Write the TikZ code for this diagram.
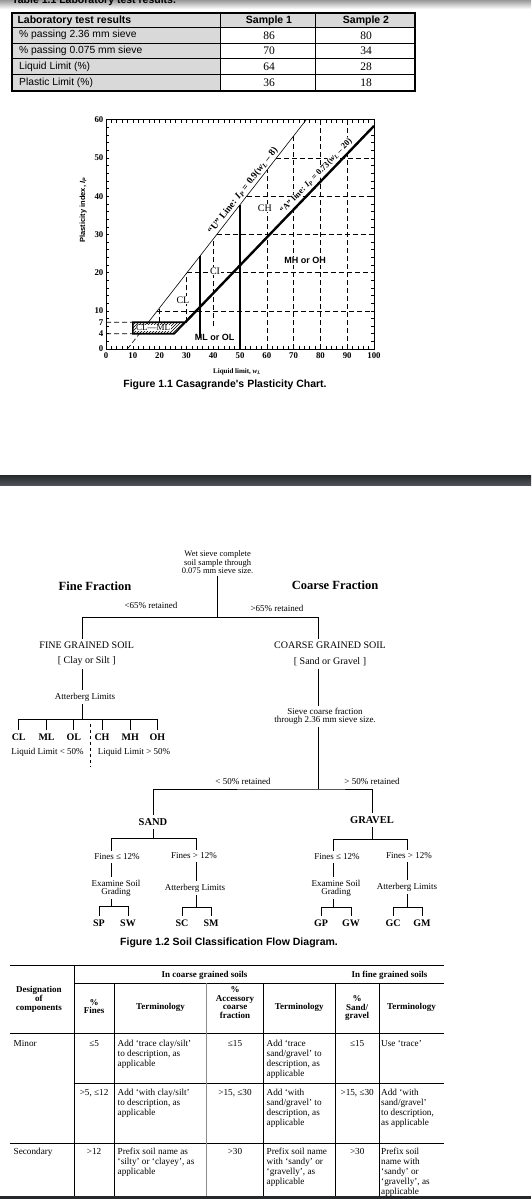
\documentclass[tikz,border=0pt]{standalone}
\usepackage{fontspec}
\setmainfont{Liberation Serif}
\newfontfamily\arial{Liberation Sans}
\usetikzlibrary{patterns}
\definecolor{cellgray}{RGB}{217,217,217}
\definecolor{bandtop}{RGB}{38,41,44}
\definecolor{bandbot}{RGB}{80,83,87}
\newcommand{\symsub}[2]{\textit{#1}\textsubscript{\textit{#2}}}

\begin{document}
\begin{tikzpicture}[x=1pt,y=-1pt,
    hd/.style={font=\arial\bfseries\fontsize{10.5}{12}\selectfont,inner sep=0pt},
    rowlab/.style={font=\arial\fontsize{10.3}{12}\selectfont,inner sep=0pt,anchor=west},
    num/.style={font=\fontsize{11.5}{12}\selectfont,inner sep=0pt},
    figcap/.style={font=\arial\bfseries\fontsize{10.5}{12}\selectfont,inner sep=0pt},
    axnum/.style={font=\bfseries\fontsize{8.8}{9}\selectfont,inner sep=0pt},
    zone/.style={font=\fontsize{10}{11}\selectfont,inner sep=0.6pt,fill=white},
    zonesf/.style={font=\arial\bfseries\fontsize{9}{10}\selectfont,inner sep=0.6pt,fill=white},
    lineeq/.style={font=\bfseries\fontsize{8.5}{9}\selectfont,inner sep=0.3pt,fill=white},
    griddash/.style={line width=0.6pt,dash pattern=on 5pt off 3pt},
    lbl/.style={font=\fontsize{9}{8}\selectfont,align=center,inner sep=2.5pt},
    big/.style={font=\bfseries\fontsize{12.5}{14}\selectfont,inner sep=0pt},
    soil/.style={font=\fontsize{10}{12}\selectfont,inner sep=3pt},
    grp/.style={font=\bfseries\fontsize{10.5}{12}\selectfont,inner sep=3pt},
    leaf/.style={font=\bfseries\fontsize{10}{12}\selectfont,inner sep=3.5pt},
    flow/.style={line width=0.8pt},
    th/.style={font=\bfseries\fontsize{9}{8.6}\selectfont,align=center,inner sep=0pt},
    td/.style={font=\fontsize{9.2}{10}\selectfont,align=left,inner sep=0pt,anchor=north west},
    tdc/.style={font=\fontsize{9.2}{10}\selectfont,inner sep=0pt,anchor=north}
  ]
  \useasboundingbox (0,0) rectangle (531,1199);
  \clip (0,0) rectangle (531,1199);

  % top of page
  \shade[top color=black!40,bottom color=white] (0,0) rectangle (531,9);
  \node[figcap,anchor=base west] (tabcap) at (12,3.5) {Table 1.1 Laboratory test results.};

  % Table 1.1
  \fill[cellgray] (11.7,13.3) rectangle (220,90.7) (220,13.3) rectangle (415,27.3);
  \foreach \y in {27.3,43.3,58.7,74} \draw[line width=0.7pt] (11.7,\y) -- (415,\y);
  \foreach \x in {220,315} \draw[line width=0.7pt] (\x,13.3) -- (\x,90.7);
  \draw[line width=1.6pt] (11.7,13.3) rectangle (415,90.7);
  \node[hd,anchor=west] (labhd) at (17.3,20.3) {Laboratory test results};
  \node[hd] (s1hd) at (269,20.3) {Sample 1};
  \node[hd] (s2hd) at (366,20.3) {Sample 2};
  \foreach \y/\lab/\a/\b [count=\i] in {35.3/{\% passing 2.36 mm sieve}/86/80,
      51/{\% passing 0.075 mm sieve}/70/34, 66.4/{Liquid Limit (\%)}/64/28,
      82.4/{Plastic Limit (\%)}/36/18} {
    \node[rowlab] (row\i) at (19,\y) {\lab};
    \node[num] (a\i) at (269,\y) {\a};
    \node[num] (b\i) at (366,\y) {\b};
  }

  % Figure 1.1 plasticity chart
  \begin{scope}[shift={(106,349)},x=2.68pt,y=3.82pt]
    \foreach \v in {10,20,30,40,50} \draw[griddash] ({\v/0.9+8},\v) -- (100,\v);
    \foreach \u/\t in {60/46.8,70/55.8,80/60,90/60} \draw[griddash] (\u,0) -- (\u,\t);
    \draw[griddash] (30,7) -- (30,19.8) (40,6) -- (40,28.8) (20,7) -- (20,10.8);
    \draw[griddash] (0,7) -- (10,7) (0,4) -- (10,4) (8,0) -- (15.8,7);
    \draw[line width=0.9pt] (0,0) rectangle (100,60);
    \foreach \t in {2,4,...,98} \draw[line width=0.5pt] (\t,0) -- (\t,0.9) (\t,60) -- (\t,59.1);
    \foreach \t in {2,4,...,58} \draw[line width=0.5pt] (0,\t) -- (1.2,\t) (100,\t) -- (98.8,\t);
    \foreach \t in {0,10,...,100} \node[axnum,below=3pt] at (\t,0) {\t};
    \foreach \t in {0,4,7,10,20,30,40,50,60} \node[axnum,left=2.5pt] at (0,\t) {\t};
    % U and A lines
    \draw[line width=0.6pt] (15.8,7) -- (74.7,60)
      node[pos=0.63,sloped,above=1pt,lineeq,font=\bfseries\fontsize{9.6}{10}\selectfont] {``U'' Line: \symsub{I}{P} = 0.9(\symsub{w}{L} -- 8)};
    \draw[line width=2.4pt] (29.6,7) -- (100,58.4)
      node[pos=0.72,sloped,above=1.5pt,lineeq] {``A'' line: \symsub{I}{P} = 0.73(\symsub{w}{L} -- 20)};
    \draw[line width=1.6pt,pattern=north east lines] (10,4) -- (25.5,4) -- (29.6,7) -- (10,7) -- cycle;
    \node[font=\fontsize{9}{10}\selectfont,fill=white,inner sep=0.4pt] at (17.6,5.5) {CL---ML};
    \draw[line width=2.2pt] (35,3) -- (35,24.3);
    \draw[line width=2.2pt] (50,0) -- (50,37.8);
    \node[zone] at (28.7,12.8) {CL};
    \node[zone] at (40.7,20.4) {CI};
    \node[zone] at (59.3,36.9) {CH};
    \node[zonesf] at (74.3,23.1) {MH or OH};
    \node[zonesf,fill=none] at (40.5,3) {ML or OL};
    \node[rotate=90,font=\arial\bfseries\fontsize{7.5}{8}\selectfont] at (-8.5,36.4) {Plasticity index, \symsub{I}{P}};
    \node[font=\bfseries\fontsize{7}{8}\selectfont] at (48.9,-5.9) {Liquid limit, \symsub{w}{L}};
  \end{scope}
  \node[figcap] (cap1) at (225,385) {Figure 1.1 Casagrande's Plasticity Chart.};

  % page break
  \shade[top color=bandtop,bottom color=bandbot] (0,475) rectangle (531,485.4);

  % Figure 1.2 flow diagram
  \node[lbl,font=\fontsize{8.5}{7.6}\selectfont] (wet) at (217.6,562) {Wet sieve complete\\soil sample through\\0.075 mm sieve size.};
  \node[big] (fine) at (95,586.5) {Fine Fraction};
  \node[big] (coarse) at (335,585) {Coarse Fraction};
  \node[lbl] (lt65) at (151,605.5) {<65\% retained};
  \node[lbl] (gt65) at (277,608) {>65\% retained};
  \node[soil] (fgs) at (86.7,645.4) {FINE GRAINED SOIL};
  \node[soil] (clay) at (86.7,661.4) {[ Clay or Silt ]};
  \node[soil] (cgs) at (330,645.4) {COARSE GRAINED SOIL};
  \node[soil] (sandgrav) at (330,661.4) {[ Sand or Gravel ]};
  \node[lbl] (attf) at (85,697) {Atterberg Limits};
  \foreach \n/\x/\t in {cl/18.7/CL,ml/46.6/ML,ol/73.8/OL,ch/102/CH,mh/130.2/MH,oh/157.4/OH}
    \node[leaf] (\n) at (\x,737) {\t};
  \node[lbl] (llo) at (47.5,752) {Liquid Limit < 50\%};
  \node[lbl] (lhi) at (134,752) {Liquid Limit > 50\%};
  \node[lbl] (sieve) at (325,716.5) {Sieve coarse fraction\\through 2.36 mm sieve size.};
  \node[lbl] (lt50) at (243,781.7) {< 50\% retained};
  \node[lbl] (gt50) at (372,781) {> 50\% retained};
  \node[grp] (sand) at (153,822) {SAND};
  \node[grp] (gravel) at (372,820) {GRAVEL};
  \node[lbl] (sfa) at (117,857) {Fines ≤ 12\%};
  \node[lbl] (sfb) at (194,856) {Fines > 12\%};
  \node[lbl] (sexam) at (116,888) {Examine Soil\\Grading};
  \node[lbl] (satt) at (195,888) {Atterberg Limits};
  \node[lbl] (gfa) at (337,857) {Fines ≤ 12\%};
  \node[lbl] (gfb) at (409,856) {Fines > 12\%};
  \node[lbl] (gexam) at (336,888) {Examine Soil\\Grading};
  \node[lbl] (gatt) at (407,887) {Atterberg Limits};
  \foreach \n/\x/\t in {sp/99/SP,sw/128/SW,sc/182/SC,sm/211/SM,gp/321/GP,gw/351/GW,gc/393/GC,gm/422/GM}
    \node[leaf] (\n) at (\x,923.5) {\t};
  \node[figcap,anchor=west] (cap2) at (120,943) {Figure 1.2 Soil Classification Flow Diagram.};

  \coordinate (fA) at (82.6,617);
  \coordinate (cA) at (318.6,617);
  \coordinate (fB) at (82.6,719.5);
  \coordinate (cC) at (318.6,789);
  \coordinate (dvtop) at (90.7,724);
  \coordinate (dvbot) at (90.7,767);
  \coordinate (sD1) at (111,838);
  \coordinate (sD2) at (196,838);
  \coordinate (sE) at (111,906);
  \coordinate (sF) at (196,907);
  \coordinate (gD1) at (333,839);
  \coordinate (gD2) at (407,839);
  \coordinate (gE) at (333,907);
  \coordinate (gF) at (407,907);

  \draw[flow] (wet.south) -- (wet.south |- fA);
  \draw[flow] (fA |- fgs.north) -- (fA) -- (cA) -- (cA |- cgs.north);
  \draw[flow] (fA |- clay.south) -- (fA |- attf.north);
  \draw[flow] (fA |- attf.south) -- (fB);
  \draw[flow] (cl.north) |- (fB) -| (oh.north);
  \foreach \n in {ml,ol,ch,mh} \draw[flow] (\n.north) -- (\n.north |- fB);
  \draw[flow,dashed] (dvtop) -- (dvbot);
  \draw[flow] (cA |- sandgrav.south) -- (cA |- sieve.north);
  \draw[flow] (cA |- sieve.south) -- (cC);
  \draw[flow] (sand.north) |- (cC) -| (gravel.north);
  % sand branch
  \draw[flow] (sand.south) -- (sand.south |- sD1);
  \draw[flow] (sD1 |- sfa.north) -- (sD1) -- (sD2) -- (sD2 |- sfb.north);
  \draw[flow] (sD1 |- sfa.south) -- (sD1 |- sexam.north);
  \draw[flow] (sD2 |- sfb.south) -- (sD2 |- satt.north);
  \draw[flow] (sD1 |- sexam.south) -- (sE);
  \draw[flow] (sp.north) |- (sE) -| (sw.north);
  \draw[flow] (sD2 |- satt.south) -- (sF);
  \draw[flow] (sc.north) |- (sF) -| (sm.north);
  % gravel branch
  \draw[flow] (gravel.south) -- (gravel.south |- gD1);
  \draw[flow] (gD1 |- gfa.north) -- (gD1) -- (gD2) -- (gD2 |- gfb.north);
  \draw[flow] (gD1 |- gfa.south) -- (gD1 |- gexam.north);
  \draw[flow] (gD2 |- gfb.south) -- (gD2 |- gatt.north);
  \draw[flow] (gD1 |- gexam.south) -- (gE);
  \draw[flow] (gp.north) |- (gE) -| (gw.north);
  \draw[flow] (gD2 |- gatt.south) -- (gF);
  \draw[flow] (gc.north) |- (gF) -| (gm.north);

  % components table
  \draw[line width=1.4pt] (10,965.2) -- (443.6,965.2);
  \draw[line width=0.6pt] (73.8,983.1) -- (443.6,983.1);
  \foreach \y in {1033.6,1142.8} \draw[line width=0.6pt] (10,\y) -- (443.6,\y);
  \draw[line width=0.6pt] (73.8,1082.9) -- (443.6,1082.9);
  \draw[line width=0.6pt] (73.8,965.2) -- (73.8,1196);
  \foreach \c in {114.4,263.4,335.2,379.2} \draw[line width=0.6pt] (\c,983.1) -- (\c,1196);
  \draw[black!45,line width=1.4pt] (206.5,983.1) -- (206.5,1196);
  \node[th] (incoarse) at (204.5,975.3) {In coarse grained soils};
  \node[th] (infine) at (389.4,975.3) {In fine grained soils};
  \node[th,anchor=north] (desig) at (38.9,986.5) {Designation\\of\\components};
  \node[th,anchor=north] (pfines) at (94.1,999) {\%\\Fines};
  \node[th] (term1) at (160.5,1007.5) {Terminology};
  \node[th,anchor=north] (pacc) at (235,986.5) {\%\\Accessory\\coarse\\fraction};
  \node[th] (term2) at (299.3,1007.5) {Terminology};
  \node[th,anchor=north] (psand) at (357.2,995.5) {\%\\Sand/\\gravel};
  \node[th] (term3) at (411.4,1007.5) {Terminology};

  \node[td] (minor) at (13.5,1040) {Minor};
  \node[tdc] at (94.1,1040) {≤5};
  \node[td] at (117.5,1040) {Add `trace clay/silt'\\to description, as\\applicable};
  \node[tdc] at (235,1040) {≤15};
  \node[td] at (266.5,1040) {Add `trace\\sand/gravel' to\\description, as\\applicable};
  \node[tdc] at (357.2,1040) {≤15};
  \node[td] at (381,1040) {Use `trace'};

  \node[tdc] at (94.1,1089) {>5, ≤12};
  \node[td] at (117.5,1089) {Add `with clay/silt'\\to description, as\\applicable};
  \node[tdc] at (235,1089) {>15, ≤30};
  \node[td] at (266.5,1089) {Add `with\\sand/gravel' to\\description, as\\applicable};
  \node[tdc] at (357.2,1089) {>15, ≤30};
  \node[td] at (381,1089) {Add `with\\sand/gravel'\\to description,\\as applicable};

  \node[td] (second) at (13.5,1148) {Secondary};
  \node[tdc] at (94.1,1148) {>12};
  \node[td] at (117.5,1148) {Prefix soil name as\\`silty' or `clayey', as\\applicable};
  \node[tdc] at (235,1148) {>30};
  \node[td] at (266.5,1148) {Prefix soil name\\with `sandy' or\\`gravelly', as\\applicable};
  \node[tdc] at (357.2,1148) {>30};
  \node[td] at (381,1148) {Prefix soil\\name with\\`sandy' or\\`gravelly', as\\applicable};

  \fill[bandtop] (0,1196) rectangle (531,1199);
\end{tikzpicture}
\end{document}
